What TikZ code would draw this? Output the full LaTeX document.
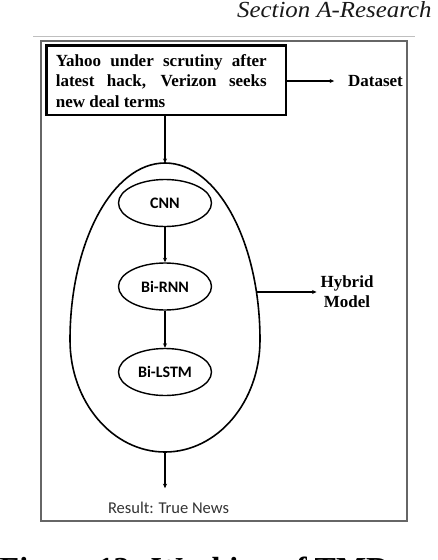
\documentclass[tikz,border=0pt]{standalone}
\usepackage{fontspec}
\setmainfont{Liberation Serif}
\newfontfamily\calib{Carlito}
\newfontfamily\headfont[FakeStretch=1.08]{Liberation Serif Italic}
\usetikzlibrary{shapes.geometric,arrows.meta}
\begin{document}
\begin{tikzpicture}[x=1pt,y=-1pt,
  arr/.style={-{Stealth[length=4.5pt,width=4pt]}, line width=1.1pt},
  layer/.style={ellipse, draw, line width=1.4pt, minimum width=93pt, minimum height=47pt, inner sep=0pt, font=\calib\bfseries\fontsize{16}{18}\selectfont},
  lbl/.style={inner sep=0pt, font=\bfseries\fontsize{17}{20}\selectfont, align=center}]
\useasboundingbox (0,0) rectangle (438,560);
\clip (0,0) rectangle (438,560);
% header and page decorations
\node[anchor=base west, inner sep=0, font=\headfont\fontsize{23}{26}\selectfont, text=black!90] (header) at (237,17) {Section A-Research};
\draw[black!25, line width=0.8pt] (33,36) -- (415,36);
\node[draw=black!60, line width=2pt, minimum width=366pt, minimum height=480pt, inner sep=0] (frame) at (224,281) {};
% news box
\node[draw, line width=2.5pt, minimum width=239.5pt, minimum height=69.5pt, inner sep=0] (news) at (166,80) {};
\node[inner sep=0, text width=211pt, align=justify, font=\bfseries\fontsize{17}{20.4}\selectfont] (newstext) at (161.3,81) {Yahoo under scrutiny after\linebreak latest hack, Verizon seeks\linebreak new deal terms};
\node[lbl, outer xsep=14pt] (dataset) at (375.5,81) {Dataset};
\draw[arr] (news.east |- dataset) -- (dataset.west);
% egg
\coordinate (eggtop) at (165,163);
\coordinate (eggbot) at (165,452);
\coordinate (eggR) at (256.4,292);
\draw[line width=1.6pt] (70,340) arc[start angle=180,end angle=0,x radius=95pt,y radius=177pt] arc[start angle=0,end angle=-180,x radius=95pt,y radius=112pt];
\draw[arr] (news.south -| eggtop) -- (eggtop);
% layers
\node[layer] (cnn) at (165,203) {CNN};
\node[layer] (birnn) at (165,286.5) {Bi-RNN};
\node[layer] (bilstm) at (165,372) {Bi-LSTM};
\draw[arr] (cnn) -- (birnn);
\draw[arr] (birnn) -- (bilstm);
% hybrid label
\node[lbl, outer xsep=4pt] (hybrid) at (347,292) {Hybrid\\Model};
\draw[arr] (eggR) -- (eggR -| hybrid.west);
% result
\node[inner sep=0, outer ysep=14pt, font=\calib\fontsize{16.5}{18}\selectfont, text=black!80] (result) at (168.5,508) {Result: True News};
\draw[arr] (eggbot) -- (eggbot |- result.north);
% caption (cut off by the page edge)
\node[anchor=base west, inner sep=0, font=\bfseries\fontsize{32}{36}\selectfont] (caption) at (-0.5,579) {Figure 13: Working of TMD};
\end{tikzpicture}
\end{document}
